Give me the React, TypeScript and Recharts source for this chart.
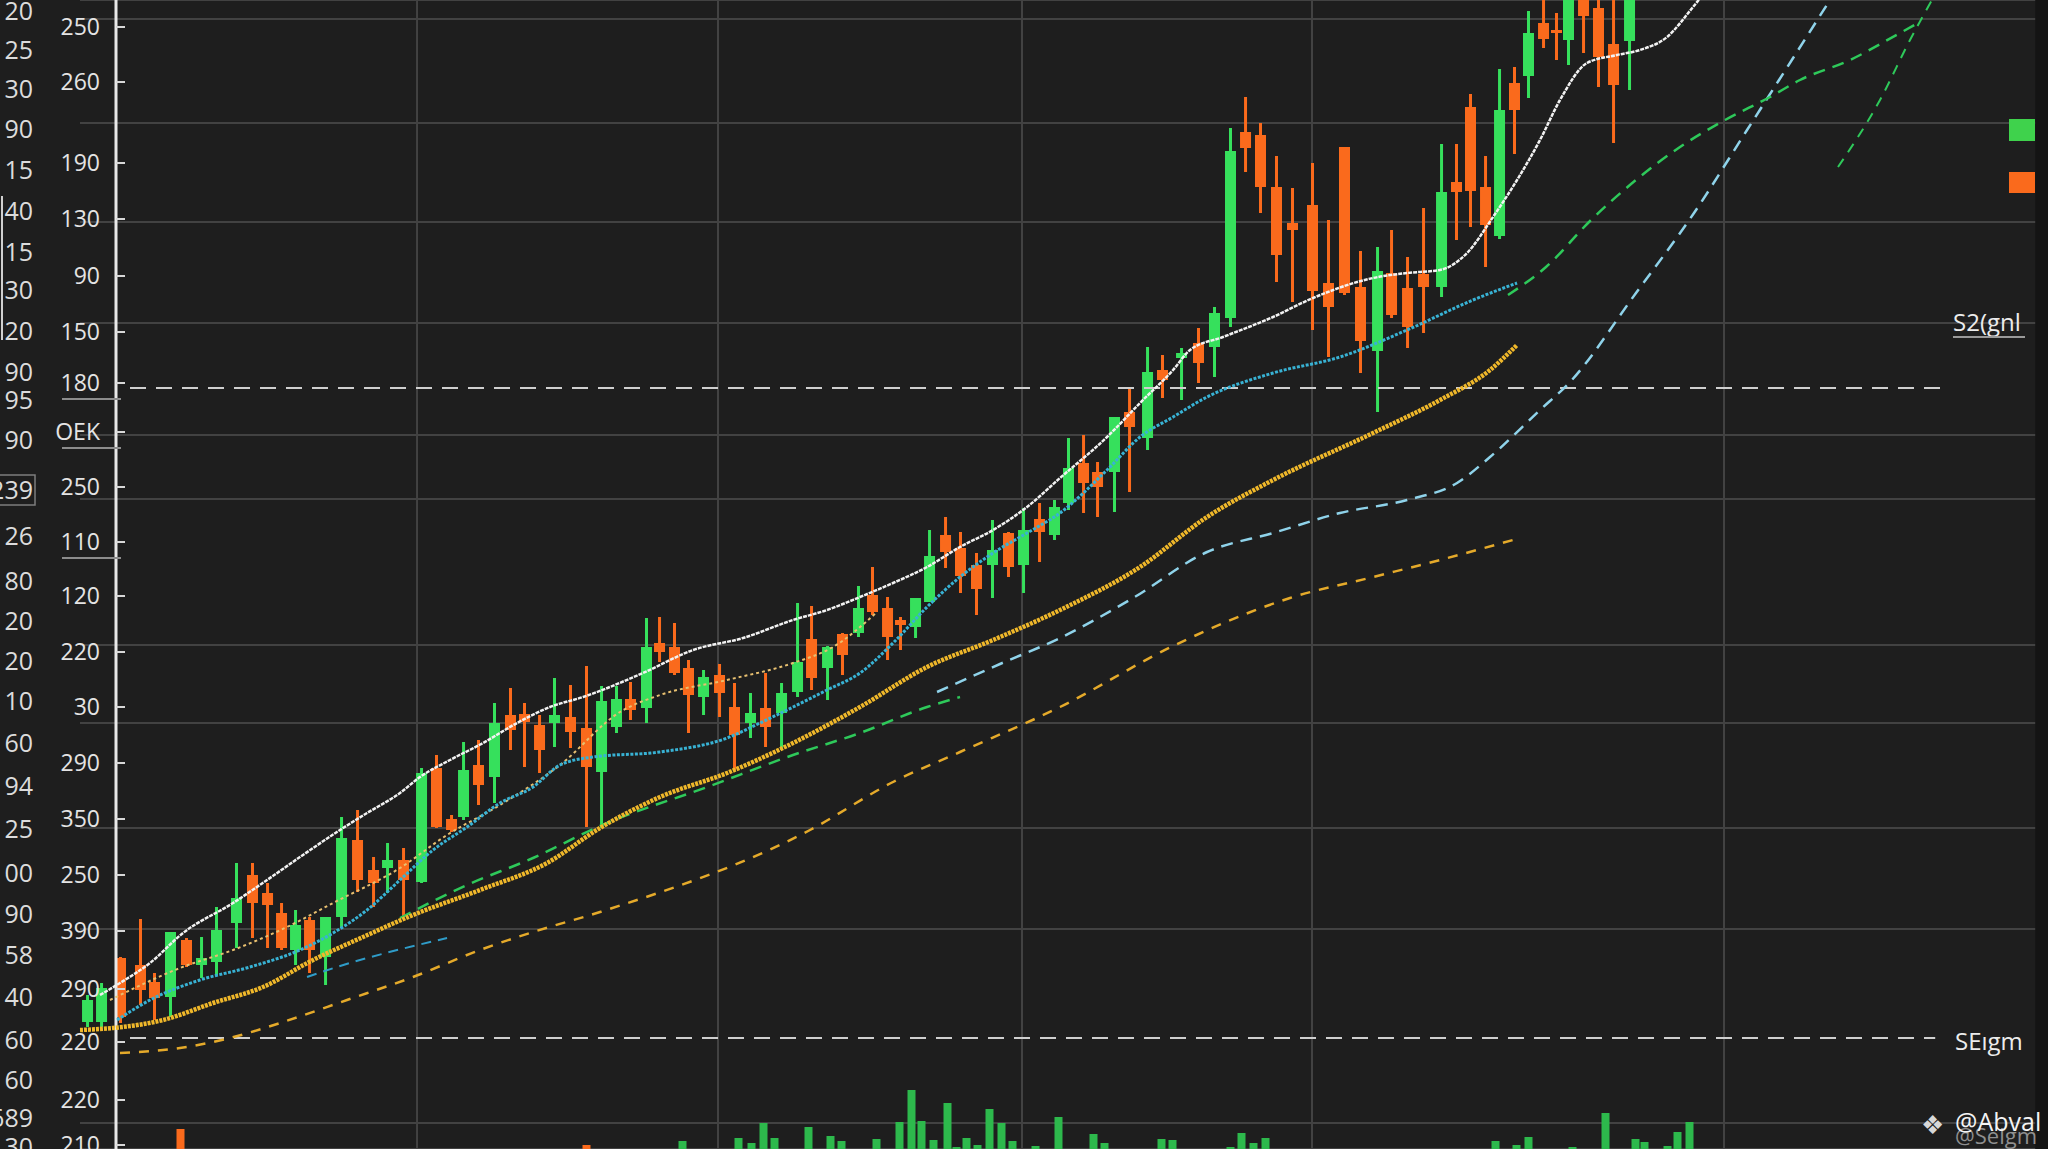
import React from 'react';
import {
  ComposedChart,
  Bar,
  Line,
  XAxis,
  YAxis,
  CartesianGrid,
  ReferenceLine,
  ReferenceArea,
  Legend,
  Cell,
} from 'recharts';

const W = 2048;
const H = 1149;
const T_DOMAIN: [number, number] = [0, 256];
const P_DOMAIN: [number, number] = [0, 229.8];
const V_DOMAIN: [number, number] = [0, 1149];

const UP = '#36e05c';
const DOWN = '#fa6a1c';
const VOL_UP = '#2db94c';
const BG = '#1e1e1e';
const FONT = "'Open Sans', 'DejaVu Sans', sans-serif";

// candles (session, open, high, low, close)
const candleT = [
  10.88, 12.63, 15, 17.5, 19.25, 21.25, 23.25, 25.13, 27, 29.5,
  31.5, 33.38, 35.13, 36.88, 38.63, 40.63, 42.63, 44.63, 46.63, 48.38,
  50.38, 52.63, 54.5, 56.38, 57.88, 59.75, 61.75, 63.75, 65.5, 67.38,
  69.25, 71.25, 73.25, 75.13, 77, 78.75, 80.75, 82.38, 84.25, 86,
  87.88, 89.88, 91.75, 93.75, 95.63, 97.63, 99.63, 101.38, 103.38, 105.25,
  107.25, 109, 110.88, 112.5, 114.38, 116.13, 118.13, 120, 122, 124,
  126, 127.88, 129.88, 131.75, 133.5, 135.38, 137.13, 139.25, 141.13, 143.38,
  145.25, 147.63, 149.75, 151.75, 153.75, 155.63, 157.5, 159.5, 161.5, 164,
  166, 168, 170, 172.13, 173.88, 175.88, 177.88, 180.13, 182, 183.75,
  185.63, 187.38, 189.25, 191, 192.88, 194.5, 196, 197.88, 199.75, 201.63,
  203.63,
];
const candleOpen = [
  25.4, 25.4, 38.2, 36.8, 33.4, 30.4, 41.8, 36.8, 37.4, 45.2,
  54.8, 51.2, 47.2, 39.8, 45.8, 38.4, 46.4, 61.8, 55.8, 56.2,
  57.8, 53.4, 76.2, 66, 66.4, 76.8, 74.4, 86.8, 87, 84.8,
  85.2, 86.4, 84.2, 75.4, 84.4, 90, 88.2, 101.2, 100.4, 96.2,
  90.4, 94.8, 88.4, 85.2, 88.2, 87.2, 91.4, 102, 96.2, 103,
  103.2, 110.8, 108.2, 105.8, 104.4, 109.4, 122.8, 120.2, 116.8, 116.8,
  123.2, 116.8, 126, 122.8, 129.2, 137.2, 135.4, 135.4, 147.4, 142.2,
  155.8, 158.2, 161.2, 160.4, 166.2, 203.4, 202.8, 192.4, 185.2, 188.8,
  173.2, 200.4, 172.4, 159.6, 175.2, 172.2, 175, 172.4, 193.4, 208.4,
  192.4, 182.6, 213.2, 214.6, 225.2, 223.8, 221.8, 229.8, 228.2, 221,
  221.6,
];
const candleHigh = [
  30.8, 33.2, 38.4, 46, 35.2, 43.4, 42.2, 42.4, 48.4, 57.2,
  57.2, 53.2, 49.2, 47.8, 46.4, 46.4, 66.4, 67.8, 58.4, 61.2,
  60.2, 76.2, 78.8, 66.8, 81.4, 81.8, 89.2, 92.2, 89.2, 86.8,
  94.2, 92.8, 96.6, 92.6, 92.6, 93.4, 106.2, 106.4, 105.2, 97.8,
  95.8, 97, 93.2, 91.2, 95.2, 93.2, 109.2, 108.6, 100.6, 103.2,
  112.6, 116.4, 110.4, 106.4, 110.2, 123.8, 126.4, 123.4, 119.2, 125.8,
  123.4, 128.2, 129.2, 129.8, 142.2, 142.8, 137.4, 146.4, 152.2, 160.4,
  158.8, 160.2, 164.2, 168.4, 204.2, 210.4, 205.2, 198.6, 192.2, 197.2,
  185.8, 200.4, 179.6, 180.4, 183.8, 178.4, 188.2, 201, 201, 211,
  198.6, 216, 216.4, 227.6, 229.8, 227.2, 229.8, 229.8, 229.8, 229.8,
  229.8,
];
const candleLow = [
  24.4, 24.4, 25.2, 28.8, 25.8, 26.4, 36.4, 34.2, 34.8, 40.2,
  42.2, 40.2, 39.8, 36.8, 35.2, 32.8, 44.4, 51.4, 48.4, 51.2,
  46.4, 53.2, 64.2, 63.4, 65.8, 68.8, 69.2, 79.8, 76.4, 75.2,
  80.4, 80.2, 64.4, 64.2, 83.2, 85.8, 85.2, 97.4, 94.8, 83.2,
  86.8, 86.4, 75.8, 82.2, 80.4, 79.8, 90.4, 91.8, 89.8, 94.8,
  102.4, 106.8, 97.8, 99.8, 102.2, 109.4, 116.2, 111.2, 106.8, 110.2,
  114.4, 111.2, 117.4, 121.8, 127.8, 127.2, 126.4, 127.4, 131.4, 139.8,
  150.2, 149.8, 153.2, 154.4, 164.4, 195.4, 187.2, 173.4, 169.4, 163.8,
  158.4, 170.8, 155.2, 147.4, 166.2, 160.2, 163.2, 170.4, 181.8, 184.4,
  176.4, 182, 199, 210.2, 220.2, 217.8, 216.8, 219.2, 212.4, 201.2,
  211.8,
];
const candleClose = [
  29.8, 32.2, 26.4, 31.8, 30.2, 43.4, 36.8, 38.2, 43.8, 50.2,
  49.2, 48.8, 40.2, 44.8, 39.8, 46.4, 62.2, 53.8, 53.2, 57.8,
  53.8, 75.2, 64.4, 63.8, 75.8, 72.8, 85.2, 83.8, 85.4, 79.8,
  86.8, 83.4, 76.4, 89.6, 90, 87.8, 100.4, 99.4, 95.2, 90.8,
  94.4, 91.2, 82.8, 87.2, 84.4, 91.2, 97.4, 94.2, 100.4, 98.8,
  108.2, 107.4, 102.4, 104.8, 110.2, 118.6, 119.4, 114.6, 112, 119.8,
  116.4, 123.8, 123.4, 128.4, 136.2, 133.2, 132.4, 146.4, 144.4, 155.4,
  153.8, 159.2, 157.2, 167.2, 199.6, 200.2, 192.4, 178.8, 183.8, 171.6,
  168.4, 171.2, 161.6, 175.6, 166.8, 164.4, 172.4, 191.4, 191.4, 191.6,
  184.8, 207.8, 207.8, 223.2, 222, 223.2, 229.8, 226.6, 218.4, 212.8,
  229.8,
];

// volume
const volT = [
  22.5, 73.25, 85.25, 92.25, 93.875, 95.375, 96.75, 101, 103.75, 105.125,
  109.5, 112.375, 113.875, 115.125, 116.625, 118.375, 119.5, 120.75, 122.125, 123.625,
  125.125, 126.5, 129.375, 132.25, 136.625, 138, 145.125, 146.5, 153.75, 155.125,
  156.625, 158.125, 186.875, 189.5, 191, 196.5, 200.625, 204.375, 205.5, 208.375,
  209.625, 211.125,
];
const volAmount = [
  20, 4, 8, 11, 6, 26, 11, 22, 13, 8,
  10, 27, 59, 28, 9, 46, 2, 11, 4, 40,
  26, 8, 3, 32, 15, 6, 10, 9, 2, 16,
  6, 11, 8, 4, 12, 2, 36, 10, 7, 3,
  17, 27,
];
const volDown = [true, true];

// moving averages and guide lines
const whiteT = [12.5, 15, 18.75, 22.88, 29.13, 33.38, 37.5, 42.5, 45.88, 50, 52.5, 56.25, 60.38, 64.63, 68.75, 72.88, 80.38, 86.63, 92.88, 99.13, 103.38, 107.5, 111.63, 115.88, 120, 124.13, 128.38, 132.5, 138.38, 142.5, 146.63, 148.75, 152.88, 159.13, 164.13, 171.63, 175.88, 180, 183.38, 186.63, 189.63, 192.5, 195, 198.38, 202.13, 205, 208.38, 211.63, 213.13];
const whiteP = [30.8, 33.2, 37.2, 43.2, 49.2, 53.8, 58.4, 63.8, 67.2, 71.2, 74.4, 77.8, 81.2, 85.2, 88.4, 90.4, 95.2, 99.8, 102.2, 105.8, 107.8, 110.4, 113.2, 116.4, 120.4, 123.8, 128.4, 134.2, 142.4, 149.2, 155.8, 159.8, 162.4, 166.4, 170.2, 174.2, 175.2, 175.8, 179.2, 186.4, 193.8, 201.8, 209.8, 217.2, 218.8, 219.8, 222.4, 228.4, 231.4];

const tealT = [14.63, 18.75, 25, 31.25, 37.5, 41.63, 45.88, 50, 54.13, 58.38, 62.5, 66.63, 70, 74.13, 82.5, 90.88, 95, 99.13, 103.38, 107.5, 111.63, 115.88, 120, 124.13, 128.38, 132.5, 138.38, 142.5, 146.63, 150.88, 159.13, 167.5, 175.88, 184.13, 189.63];
const tealP = [25.8, 29.8, 33.8, 36.4, 39.8, 43.2, 47.8, 53.8, 59.8, 64.4, 69.2, 72.4, 76.8, 78.4, 79.4, 82.2, 85.2, 88.4, 91.8, 95.2, 101.2, 108.4, 114.4, 119.2, 123.2, 127.2, 135.8, 142.4, 146.4, 150.4, 155.2, 158.4, 163.8, 169.8, 173.2];

const goldT = [10, 14.13, 20.38, 26.63, 32.88, 39.13, 45.38, 51.63, 60, 68.38, 75, 82.5, 90.88, 99.13, 107.5, 115.88, 124.13, 132.5, 142.5, 150.88, 159.13, 171.63, 180, 186.25, 189.63];
const goldP = [23.8, 24.2, 25.8, 29.2, 32.4, 37.8, 42.4, 46.8, 51.8, 57.2, 64.2, 70.4, 75.2, 81.2, 88.4, 96.4, 101.8, 107.8, 116.4, 126.4, 133.8, 143.2, 149.8, 155.8, 160.8];

const greenLowT = [50, 58.38, 66.63, 75, 88.75, 99.13, 107.5, 115.88, 120];
const greenLowP = [46.2, 52.8, 58.2, 64.6, 72.6, 78.8, 83.2, 88.4, 90.4];

const skyT = [117.13, 125, 132.5, 141.63, 150.88, 159.13, 167.5, 175.88, 182.13, 186.25, 192.5, 196.13, 204.5, 211.75, 218.38, 222.38, 228.75];
const skyP = [91.4, 97, 102.2, 110.2, 119.4, 123.2, 127.2, 129.8, 133.2, 138.4, 147.8, 153.2, 171.2, 187.2, 203.8, 213.8, 229.8];

const amberT = [15, 22.5, 28.75, 35, 43.38, 51.63, 60, 66.63, 75, 101.25, 111.63, 120, 132.5, 146.88, 161.25, 171.63, 180, 189.13];
const amberP = [19.2, 20.2, 22.2, 25.2, 29.8, 34.4, 39.8, 43.4, 47.4, 63.8, 73.4, 79.4, 88.4, 100.8, 110.2, 114.4, 117.8, 121.8];

const tanT = [13.75, 22.5, 29.13, 35.88, 41.63, 50, 55.88, 62.5, 70, 77.5, 82.5, 90.88, 99.13, 104.13, 109.63];
const tanP = [29.8, 36.2, 39.8, 44.4, 49.2, 56.2, 62.8, 68.8, 76.8, 87.4, 90.8, 93.8, 97.2, 100.4, 107.4];

const blueShortT = [38.38, 42.13, 55.88];
const blueShortP = [34.4, 36.4, 42.2];

const greenHighT = [188.5, 193.25, 198.88, 204.5, 210, 215.63, 221.25, 225, 231.25, 237.5, 240];
const greenHighP = [170.8, 176.4, 185.8, 193.8, 200.4, 205.8, 210.4, 213.8, 217.8, 223.2, 225.4];

const greenSteepT = [229.75, 235, 238.75, 241.5];
const greenSteepP = [196.4, 209.8, 221.8, 229.8];

// axis ticks (labels as printed on the image)
const innerTickValues = [224.4, 213.4, 197.2, 186, 174.6, 163.4, 153.2, 143.4, 132.4, 121.4, 110.6, 99.4, 88.4, 77.2, 66, 54.8, 43.6, 32, 21.4, 9.8, 0.8];
const innerTickLabels = ['250', '260', '190', '130', '90', '150', '180', 'OEK', '250', '110', '120', '220', '30', '290', '350', '250', '390', '290', '220', '220', '210'];
const innerUnderlined = [6, 7, 9];

const outerTickValues = [227.6, 219.8, 212, 204, 195.8, 187.6, 179.4, 171.8, 163.6, 155.4, 149.8, 141.8, 131.8, 122.6, 113.6, 105.6, 97.6, 89.6, 81.2, 72.6, 64, 55.2, 47, 38.8, 30.4, 21.8, 13.8, 6.2, 0.4];
const outerTickLabels = ['120', '125', '130', '190', '115', '140', '115', '130', '120', '190', '195', '190', '239', '126', '180', '120', '120', '110', '160', '194', '125', '100', '190', '158', '140', '160', '160', '689', '130'];

const gridT = [52.13, 89.75, 127.75, 164, 215.5];
const gridP = [226, 205.2, 185.4, 165.2, 142.8, 130, 100.8, 85.2, 64.2, 44, 5.2];

const upperLevel = 152.2;
const lowerLevel = 22.2;

const candleRows = candleT.map((t, i) => ({
  t,
  o: candleOpen[i],
  h: candleHigh[i],
  l: candleLow[i],
  c: candleClose[i],
}));

const volumeRows = volT.map((t, i) => ({ t, v: volAmount[i], down: !!volDown[i] }));

const series = (ts: number[], ps: number[]) => ts.map((t, i) => ({ t, v: ps[i] }));

const zero = { top: 0, right: 0, bottom: 0, left: 0 };

function Candle(props: any) {
  const { x, y, width, height, payload } = props;
  if (!payload || !Number.isFinite(x) || !Number.isFinite(y) || !Number.isFinite(height)) return null;
  const { o, h, l, c } = payload;
  const span = h - l || 1;
  const at = (v: number) => y + ((h - v) / span) * height;
  const color = c >= o ? UP : DOWN;
  const mid = x + width / 2;
  const top = at(Math.max(o, c));
  const bot = at(Math.min(o, c));
  return (
    <g>
      <line x1={mid} x2={mid} y1={y} y2={y + height} stroke={color} strokeWidth={3} />
      <rect x={x} y={top} width={width} height={Math.max(bot - top, 3)} fill={color} />
    </g>
  );
}

function InnerTick(props: any) {
  const { y, payload } = props;
  const i = innerTickValues.indexOf(payload.value);
  return (
    <g>
      <line x1={116} x2={125} y1={y} y2={y} stroke="#d8d8d8" strokeWidth={2} />
      <text x={100} y={y} dy="0.36em" textAnchor="end" fill="#e4e4e4" fontSize={23} fontFamily={FONT}>
        {innerTickLabels[i]}
      </text>
      {innerUnderlined.includes(i) && (
        <line x1={62} x2={121} y1={y + 16} y2={y + 16} stroke="#8c8c8c" strokeWidth={2} />
      )}
    </g>
  );
}

function OuterTick(props: any) {
  const { y, payload } = props;
  const i = outerTickValues.indexOf(payload.value);
  return (
    <g>
      <text x={33} y={y} dy="0.36em" textAnchor="end" fill="#dcdcdc" fontSize={25} fontFamily={FONT}>
        {outerTickLabels[i]}
      </text>
      {i === 12 && (
        <rect x={-2} y={y - 15} width={37} height={30} fill="none" stroke="#7d7d7d" strokeWidth={1.5} />
      )}
    </g>
  );
}

function LegendSquares() {
  return (
    <div>
      <div style={{ width: 26, height: 22, background: '#3fd24c' }} />
      <div style={{ width: 26, height: 21, background: DOWN, marginTop: 31 }} />
    </div>
  );
}

const lineCommon = {
  xAxisId: 'l',
  yAxisId: 'p',
  dataKey: 'v',
  type: 'monotone' as const,
  dot: false,
  activeDot: false,
  isAnimationActive: false,
};

export default function App() {
  return (
    <div
      style={{
        position: 'fixed',
        left: 0,
        top: 0,
        width: W,
        height: H,
        background: BG,
        overflow: 'hidden',
        fontFamily: FONT,
      }}
    >
      <ComposedChart width={W} height={H} data={candleRows} margin={zero}>
        <XAxis xAxisId="c" dataKey="t" type="number" domain={T_DOMAIN} allowDataOverflow hide />
        <XAxis xAxisId="l" dataKey="t" type="number" domain={T_DOMAIN} allowDataOverflow hide />
        <XAxis xAxisId="g" dataKey="t" type="number" domain={T_DOMAIN} ticks={gridT} interval={0} allowDataOverflow hide />
        <YAxis yAxisId="p" type="number" domain={P_DOMAIN} allowDataOverflow hide />
        <YAxis yAxisId="g" type="number" domain={P_DOMAIN} ticks={gridP} interval={0} allowDataOverflow hide />

        <CartesianGrid xAxisId="g" yAxisId="g" stroke="#424242" strokeWidth={2} />

        <ReferenceArea xAxisId="l" yAxisId="p" x1={0} x2={10} fill={BG} fillOpacity={1} stroke="none" />
        <ReferenceArea xAxisId="l" yAxisId="p" x1={254.4} x2={256} fill="#141414" fillOpacity={1} stroke="none" />

        <ReferenceLine
          xAxisId="l"
          yAxisId="p"
          segment={[{ x: 16.25, y: upperLevel }, { x: 242.5, y: upperLevel }]}
          stroke="#cfcfcf"
          strokeWidth={2}
          strokeDasharray="16 10"
        />
        <ReferenceLine
          xAxisId="l"
          yAxisId="p"
          segment={[{ x: 16.25, y: lowerLevel }, { x: 241.9, y: lowerLevel }]}
          stroke="#cfcfcf"
          strokeWidth={2}
          strokeDasharray="16 10"
        />
        <ReferenceLine xAxisId="l" yAxisId="p" x={14.5} stroke="#e8e8e8" strokeWidth={3} />

        <Bar
          xAxisId="c"
          yAxisId="p"
          dataKey={(d: any) => [d.l, d.h]}
          barSize={11}
          shape={(p: any) => <Candle {...p} />}
          isAnimationActive={false}
        />

        <Line {...lineCommon} data={series(amberT, amberP)} stroke="#e5aa2a" strokeWidth={2.5} strokeDasharray="10 9" />
        <Line {...lineCommon} data={series(skyT, skyP)} stroke="#8fd3ea" strokeWidth={2.5} strokeDasharray="12 8" />
        <Line {...lineCommon} data={series(greenLowT, greenLowP)} stroke="#2ec95a" strokeWidth={2.5} strokeDasharray="12 8" />
        <Line {...lineCommon} data={series(greenHighT, greenHighP)} stroke="#2ec95a" strokeWidth={2.5} strokeDasharray="12 8" />
        <Line {...lineCommon} data={series(greenSteepT, greenSteepP)} stroke="#2ec95a" strokeWidth={2} strokeDasharray="10 8" />
        <Line {...lineCommon} data={series(blueShortT, blueShortP)} stroke="#2f9cc8" strokeWidth={2} strokeDasharray="10 7" />
        <Line {...lineCommon} data={series(goldT, goldP)} stroke="#f0b82a" strokeWidth={4.5} strokeDasharray="3 1" />
        <Line {...lineCommon} data={series(tanT, tanP)} stroke="#e8c070" strokeWidth={2} strokeDasharray="3 3" />
        <Line {...lineCommon} data={series(tealT, tealP)} stroke="#38b2d4" strokeWidth={3} strokeDasharray="3 1.5" />
        <Line {...lineCommon} data={series(whiteT, whiteP)} stroke="#f2f2f2" strokeWidth={2.5} strokeDasharray="4 1" />

        <YAxis
          yAxisId="lab"
          type="number"
          domain={P_DOMAIN}
          allowDataOverflow
          mirror
          width={10}
          ticks={innerTickValues}
          interval={0}
          axisLine={false}
          tickLine={false}
          tick={(p: any) => <InnerTick {...p} />}
        />
        <YAxis
          yAxisId="outer"
          type="number"
          domain={P_DOMAIN}
          allowDataOverflow
          mirror
          width={10}
          ticks={outerTickValues}
          interval={0}
          axisLine={false}
          tickLine={false}
          tick={(p: any) => <OuterTick {...p} />}
        />

        <Legend
          layout="horizontal"
          verticalAlign="middle"
          align="center"
          wrapperStyle={{ left: 2009, top: 119, width: 26, height: 74 }}
          content={() => <LegendSquares />}
        />
      </ComposedChart>

      <div style={{ position: 'absolute', left: 0, top: 0, pointerEvents: 'none' }}>
        <ComposedChart width={W} height={H} data={volumeRows} margin={zero}>
          <XAxis dataKey="t" type="number" domain={T_DOMAIN} allowDataOverflow hide />
          <YAxis type="number" domain={V_DOMAIN} allowDataOverflow hide />
          <Bar dataKey="v" barSize={8} isAnimationActive={false}>
            {volumeRows.map((r, i) => (
              <Cell key={i} fill={r.down ? DOWN : VOL_UP} />
            ))}
          </Bar>
        </ComposedChart>
      </div>

      <svg width={W} height={H} style={{ position: 'absolute', left: 0, top: 0, pointerEvents: 'none' }}>
        <line x1={2} x2={2} y1={196} y2={340} stroke="#d0d0d0" strokeWidth={2} />
        <text x={1953} y={331} fill="#ececec" fontSize={24} fontFamily={FONT}>S2(gnl</text>
        <line x1={1953} x2={2025} y1={337} y2={337} stroke="#9a9a9a" strokeWidth={2} />
        <text x={1955} y={1050} fill="#ececec" fontSize={24} fontFamily={FONT}>SEıgm</text>
        <text x={1955} y={1144} fill="#8f8f8f" fontSize={22} fontFamily={FONT}>@Selgm</text>
        <text x={1921} y={1134} fill="#d8d8d8" fontSize={26} fontFamily="'DejaVu Sans', sans-serif">❖</text>
        <text x={1955} y={1131} fill="#f4f4f4" fontSize={25} fontFamily={FONT}>@Abval</text>
      </svg>
    </div>
  );
}
